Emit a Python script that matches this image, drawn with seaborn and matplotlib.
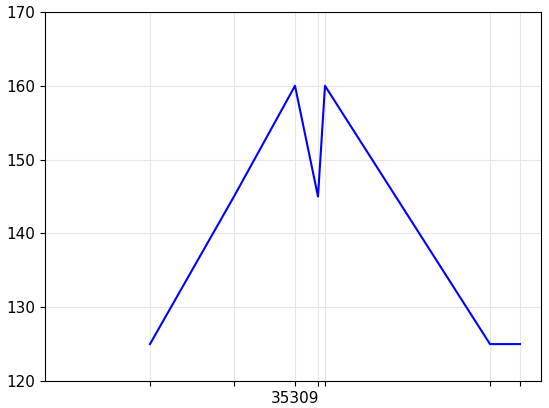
import matplotlib
matplotlib.use("Agg")
import matplotlib.pyplot as plt
import seaborn as sns
import pandas as pd

x_vals = [0, 84, 145, 168, 175, 340, 370]
y_vals = [125, 145, 160, 145, 160, 125, 125]
tick_labels = ["", "", "35309", "", "", "", ""]

df = pd.DataFrame({"x": x_vals, "y": y_vals})
fig = plt.figure(figsize=(5.49, 4.08), dpi=100)
ax = fig.add_axes([45/549, 27/408, 496/549, 369/408])
sns.lineplot(data=df, x="x", y="y", ax=ax, color="blue", sort=False, estimator=None)
ax.set_xlim(-105, 391)
ax.set_ylim(120, 170)
ax.set_xticks(x_vals)
ax.set_xticklabels(tick_labels)
ax.grid(True, color="#e6e6e6", linewidth=0.8)
ax.set_axisbelow(True)
ax.set_xlabel("")
ax.set_ylabel("")
ax.tick_params(labelsize=11)
fig.savefig("out.png", dpi=100)
